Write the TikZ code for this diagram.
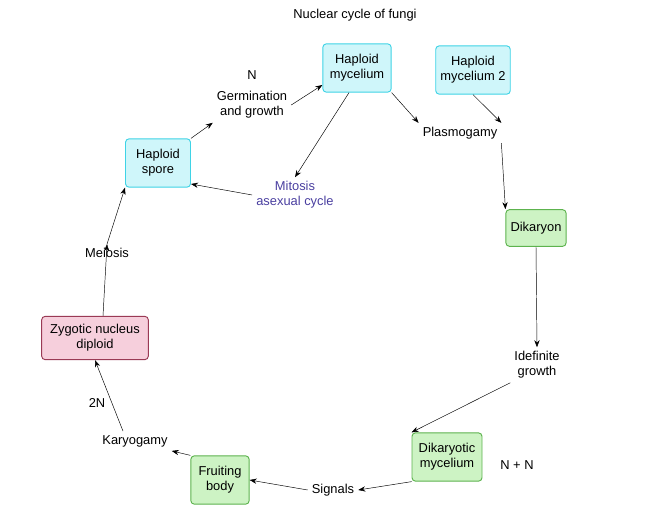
\documentclass[tikz,border=0pt]{standalone}
\usepackage{fontspec}
\setmainfont{Liberation Sans}
\usetikzlibrary{arrows.meta, positioning}
\definecolor{cyanfill}{HTML}{CFF6FA}
\definecolor{cyanline}{HTML}{3FD3E6}
\definecolor{greenfill}{HTML}{CDF3C4}
\definecolor{greenline}{HTML}{5DB34E}
\definecolor{pinkfill}{HTML}{F6CFDC}
\definecolor{pinkline}{HTML}{9A3A55}
\definecolor{mitosis}{HTML}{4A3FA0}
\tikzset{
  box/.style={draw, rounded corners=3pt, align=center, inner sep=4pt, minimum height=1.45cm, line width=0.8pt},
  haploid/.style={box, fill=cyanfill, draw=cyanline, minimum width=2.05cm},
  dikar/.style={box, fill=greenfill, draw=greenline, minimum width=1.8cm},
  label/.style={align=center},
  arr/.style={-{Stealth[length=6pt]}, thin}
}
\begin{document}
\begin{tikzpicture}[x=0.03cm, y=-0.03cm, font=\fontsize{11}{13}\selectfont]
			\useasboundingbox (0,0) rectangle (668,523);
			% Title
			\node (title) at (355,15) {Nuclear cycle of fungi};
			
			% Haploid stage
			\node[haploid] (hmyc) at (357,68) {Haploid\\mycelium};
			\node[haploid] (hmyc2) at (473,70) {Haploid\\mycelium 2};
			\node[haploid, minimum width=1.95cm] (spore) at (158,163) {Haploid\\spore};
			\node[label] (nlab) at (252,75) {N};
			\node[label] (germ) at (252,105) {Germination\\and growth};
			\node[label, text=mitosis] (mitosis) at (295,195) {Mitosis\\asexual cycle};
			\node[label] (plasmo) at (460,133) {Plasmogamy};
			
			% Dikaryotic stage
			\node[dikar, minimum height=1.1cm] (dikaryon) at (536,228) {Dikaryon};
			\node[label] (growth) at (537,365) {Idefinite\\growth};
			\node[dikar, minimum width=2.1cm] (dmyc) at (447,457) {Dikaryotic\\mycelium};
			\node[label] (nn) at (517,465) {N + N};
			\node[label] (signals) at (333,490) {Signals};
			\node[dikar, minimum width=1.75cm] (fruit) at (220,480) {Fruiting\\body};
			
			% Diploid stage
			\node[label] (karyo) at (135,441) {Karyogamy};
			\node[label] (twon) at (97,403) {2N};
			\node[box, fill=pinkfill, draw=pinkline, minimum width=3.2cm, minimum height=1.3cm] (zyg) at (95,338) {Zygotic nucleus\\diploid};
			\node[label] (meiosis) at (107,253) {Meiosis};
			
			% Connectors
			\draw[arr] (germ.east) -- (hmyc.west |- 0,85);
			\draw[arr] (spore.north east) -- (germ.south west);
			\draw[arr] (hmyc.south) ++(-8,0) -- (mitosis.north);
			\draw[arr] (mitosis.west) -- (spore.east |- 0,184);
			\draw[arr] (hmyc.south east) -- (plasmo.north west);
			\draw[arr] (hmyc2.south) -- (plasmo.north east);
			\draw[arr] (plasmo.south east) -- (dikaryon.north west);
			\draw[arr] (dikaryon.south) -- (growth.north);
			\draw[arr] (growth.south west) -- (dmyc.north west);
			\draw[arr] (dmyc.south west) -- (signals.east);
			\draw[arr] (signals.west) -- (fruit.east);
			\draw[arr] (fruit.north west) -- (karyo.south east);
			\draw[arr] (karyo.north) ++(-12,0) -- (zyg.south);
			\draw[arr] (zyg.north) ++(8,0) -- (meiosis.north);
			\draw[arr] (meiosis.north) -- (spore.south west);
		\end{tikzpicture}
\end{document}
